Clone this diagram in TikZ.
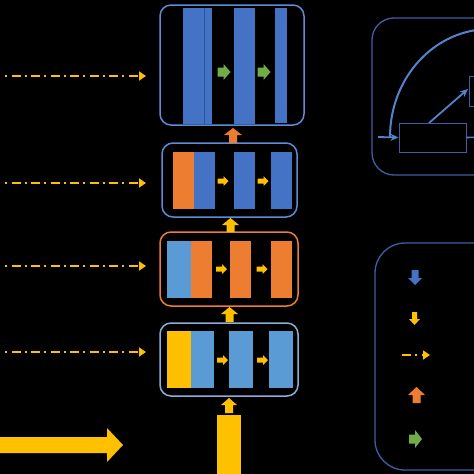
\documentclass[tikz,border=0pt]{standalone}
\usetikzlibrary{arrows.meta}
\definecolor{cblue}{HTML}{4472C4}
\definecolor{lblue}{HTML}{5B9BD5}
\definecolor{corange}{HTML}{ED7D31}
\definecolor{cyellow}{HTML}{FFC000}
\definecolor{cgreen}{HTML}{70AD47}
\definecolor{bordA}{RGB}{95,140,215}
\definecolor{bordB}{RGB}{140,175,215}
\definecolor{bordR}{RGB}{60,95,165}
\definecolor{lineR}{RGB}{85,130,205}
\definecolor{seam}{RGB}{45,85,160}
\pgfkeys{/ba/.is family,/ba/.cd,len/.store in=\bal,sw/.store in=\bas,hw/.store in=\bah,hl/.store in=\bak,col/.store in=\bacol}
\tikzset{
  barrow/.pic={\pgfkeys{/ba/.cd,#1}
    \fill[fill=\bacol] (-\bal/2,-\bas) -- (\bal/2-\bak,-\bas) -- (\bal/2-\bak,-\bah) -- (\bal/2,0)
      -- (\bal/2-\bak,\bah) -- (\bal/2-\bak,\bas) -- (-\bal/2,\bas) -- cycle;},
  stagebox/.style={draw, line width=1.5pt, rounded corners=11pt, inner sep=0pt, fill=none},
  panel/.style={draw=bordR, line width=1.3pt, inner sep=0pt},
  dashdot/.style={draw=cyellow, line width=2.8pt, dash pattern=on 2pt off 4.5pt on 9pt off 4pt,
    -{Triangle[length=7pt,width=9pt]}},
}
\begin{document}
\begin{tikzpicture}[x=1pt,y=-1pt]
\fill[black] (0,0) rectangle (474,474);
\useasboundingbox (0,0) rectangle (474,474);
\clip (0,0) rectangle (474,474);

% stage boxes
\node[stagebox, draw=bordA, minimum width=144pt, minimum height=120pt] (s4) at (232,65) {};
\node[stagebox, draw=bordA, minimum width=135pt, minimum height=74pt] (s3) at (229.5,180) {};
\node[stagebox, draw=corange, minimum width=138pt, minimum height=74pt] (s2) at (229,269) {};
\node[stagebox, draw=bordB, minimum width=138pt, minimum height=73pt] (s1) at (229,359.5) {};

% stage 4 bars
\fill[cblue] (183,8) rectangle (212,124);
\draw[seam, line width=0.7pt] (204,8) -- (204,124);
\fill[cblue] (234,8) rectangle (255,124);
\fill[cblue] (275,8) rectangle (287,123);
\pic at (224,72) {barrow={len=13,sw=4.5,hw=8,hl=7,col=cgreen}};
\pic at (264,72) {barrow={len=13,sw=4.5,hw=8,hl=7,col=cgreen}};

% stage 3 bars
\fill[corange] (173,152) rectangle (194,209);
\fill[cblue] (194,152) rectangle (215,209);
\fill[cblue] (234,152) rectangle (255,209);
\fill[cblue] (271,152) rectangle (292,209);
\pic at (223,181) {barrow={len=11,sw=2.5,hw=5,hl=5,col=cyellow}};
\pic at (263,181) {barrow={len=11,sw=2.5,hw=5,hl=5,col=cyellow}};

% stage 2 bars
\fill[lblue] (167,241) rectangle (191,298);
\fill[corange] (191,241) rectangle (212,298);
\fill[corange] (230,241) rectangle (251,298);
\fill[corange] (271,241) rectangle (292,298);
\pic at (221.5,269) {barrow={len=11,sw=2.5,hw=5,hl=5,col=cyellow}};
\pic at (262,269) {barrow={len=11,sw=2.5,hw=5,hl=5,col=cyellow}};

% stage 1 bars
\fill[cyellow] (167,331) rectangle (191,388);
\fill[lblue] (191,331) rectangle (214,388);
\fill[lblue] (229,331) rectangle (253,388);
\fill[lblue] (269,331) rectangle (293,388);
\pic at (222.5,360) {barrow={len=11,sw=2.5,hw=5,hl=5,col=cyellow}};
\pic at (262.5,360) {barrow={len=11,sw=2.5,hw=5,hl=5,col=cyellow}};

% arrows between stages
\pic[rotate=90] at (233,135.5) {barrow={len=15,sw=4,hw=9,hl=7,col=corange}};
\pic[rotate=90] at (230.5,225) {barrow={len=14,sw=4,hw=8.5,hl=7,col=cyellow}};
\pic[rotate=90] at (229.5,314.5) {barrow={len=15,sw=4,hw=8.5,hl=7,col=cyellow}};
\pic[rotate=90] at (229,405.5) {barrow={len=15,sw=4,hw=8,hl=7,col=cyellow}};

% input bar
\node[fill=cyellow, inner sep=0pt, minimum width=24pt, minimum height=62pt] (inp) at (229,446) {};

% big arrow
\pic at (59,445) {barrow={len=128,sw=8,hw=17,hl=16,col=cyellow}};

% dash-dot lines
\coordinate (d1a) at (5,76);  \coordinate (d1b) at (146,76);
\coordinate (d2a) at (5,183); \coordinate (d2b) at (146,183);
\coordinate (d3a) at (5,266); \coordinate (d3b) at (146,266);
\coordinate (d4a) at (5,352); \coordinate (d4b) at (146,352);
\draw[dashdot] (d1a) -- (d1b);
\draw[dashdot] (d2a) -- (d2b);
\draw[dashdot] (d3a) -- (d3b);
\draw[dashdot] (d4a) -- (d4b);

% top right panel
\draw[panel, rounded corners=22pt] (372,18) rectangle (500,175);
\node[draw=bordR, line width=1pt, inner sep=0pt, minimum width=67pt, minimum height=29pt] (r1) at (432.5,137.5) {};
\node[draw=bordR, line width=1pt, inner sep=0pt, minimum width=30pt, minimum height=30pt, anchor=north west] (r2) at (469,76) {};
\coordinate (inA) at (378,137);
\draw[lineR, line width=1.8pt, -{Stealth[length=8pt,width=7pt]}] (inA) -- (r1.west);
\draw[lineR, line width=1.6pt] (r1.east) -- (490,137);
\draw[lineR, line width=2pt] (390,137) .. controls (390,77.4) and (434.8,29) .. (490,29);
\coordinate (dg) at (429,123);
\draw[lineR, line width=1.8pt, -{Stealth[length=8pt,width=7pt]}] (dg) -- (468,89);

% legend panel
\draw[panel, rounded corners=30pt] (375,243) rectangle (510,470);
\pic[rotate=-90] at (415,277.5) {barrow={len=15,sw=3.5,hw=7,hl=7,col=cblue}};
\pic[rotate=-90] at (414.5,318.5) {barrow={len=13,sw=2.5,hw=5.5,hl=6,col=cyellow}};
\coordinate (la) at (402,355); \coordinate (lb) at (430,355);
\draw[dashdot, line width=2pt, dash pattern=on 9pt off 4pt on 2pt off 4.5pt] (la) -- (lb);
\pic[rotate=90] at (416.5,395) {barrow={len=16,sw=4,hw=8.5,hl=8,col=corange}};
\pic at (415.5,439) {barrow={len=13,sw=4.5,hw=9,hl=7,col=cgreen}};
\end{tikzpicture}
\end{document}
